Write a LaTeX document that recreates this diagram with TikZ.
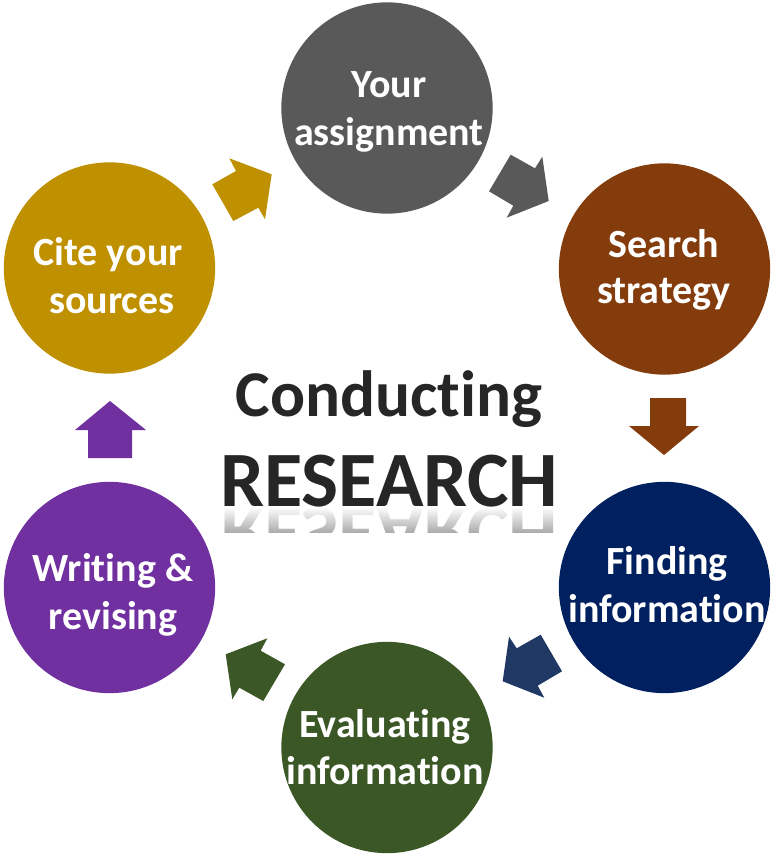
\documentclass[tikz,border=0pt]{standalone}
\usepackage{fontspec}
\setmainfont[RawFeature={-liga;-clig;-dlig}]{Carlito}
\usetikzlibrary{fadings}
\definecolor{cgray}{HTML}{595959}
\definecolor{cbrown}{HTML}{843C0C}
\definecolor{cnavy}{HTML}{002060}
\definecolor{cnavyb}{HTML}{1F3864}
\definecolor{cgreen}{HTML}{3B5725}
\definecolor{cpurple}{HTML}{7030A0}
\definecolor{cgold}{HTML}{BF9000}
\definecolor{ctitle}{HTML}{262626}
\tikzset{
  x=0.75pt,y=-0.75pt,
  stepdisc/.style={circle,minimum size=158.5pt,inner sep=0pt,fill=#1},
  disclabel/.style={text=white,font=\fontsize{30}{35.5}\selectfont\bfseries,align=center,inner sep=0pt},
  titleone/.style={text=ctitle,font=\fontsize{49}{49}\selectfont\bfseries,inner sep=0pt,anchor=base},
  titletwo/.style={text=ctitle,font=\fontsize{58.8}{60}\selectfont\bfseries,inner sep=0pt,anchor=base},
}
\begin{document}
\begin{tikzpicture}
\useasboundingbox (0,0) rectangle (775,859);
% title reflection (below the discs)
\node[titletwo,text=gray!70,yscale=-1,transform shape] (trefl) at (389,507) {RESEARCH};
\fill[white,path fading=south] (205,507) rectangle (575,534);
\fill[white] (205,533) rectangle (575,560);
% discs
\node[stepdisc=cgray]   (assign) at (387,108) {};
\node[stepdisc=cbrown]  (search) at (664.5,269) {};
\node[stepdisc=cnavy]   (finding) at (664.5,587.5) {};
\node[stepdisc=cgreen]  (eval) at (387,747.5) {};
\node[stepdisc=cpurple] (write) at (109.5,587.5) {};
\node[stepdisc=cgold]   (cite) at (109.5,268) {};
% arrows
\fill[cgray] (510.7,154.7)--(535,168.3)--(542.3,156.7)--(548.7,201)--(506.7,217.7)--(513.3,205.7)--(489,191.3)--cycle;
\fill[cbrown] (650,398)--(686,398)--(686,426)--(699,426)--(664,455)--(629,426)--(650,426)--cycle;
\fill[cnavyb] (540.7,634.7)--(562,671.3)--(537.7,685.7)--(544.3,697.7)--(502.7,681.3)--(509,636.7)--(516.7,648.3)--cycle;
\fill[cgreen] (225.7,654.3)--(267.3,638.3)--(260.7,650.7)--(285,664.3)--(263.3,701)--(239.3,687.7)--(232.3,699.3)--cycle;
\fill[cpurple] (110,401)--(146,430)--(132,430)--(132,458)--(88,458)--(88,430)--(75,430)--cycle;
\fill[cgold] (271.7,174.3)--(229.3,158.3)--(236,171)--(212.3,184.3)--(233.3,221)--(258.3,207.7)--(265,219.3)--cycle;
% labels
\node[disclabel] (lassign) at (389,112) {Your\\assignment};
\node[disclabel] (lsearch) at (664,270) {Search\\[-1.5pt]strategy};
\node[disclabel] (lfinding) at (667,584.5) {Finding\\information};
\node[disclabel] (leval) at (385,747) {Evaluating\\information};
\node[disclabel] (lwrite) at (113,595) {Writing \&\\revising};
\node[disclabel] (lcite) at (108,275.5) {Cite your\\\hspace*{6pt}sources};
% title
\node[titleone] (tone) at (389,416) {Conducting};
\node[titletwo] (ttwo) at (389,506.5) {RESEARCH};
\end{tikzpicture}
\end{document}
